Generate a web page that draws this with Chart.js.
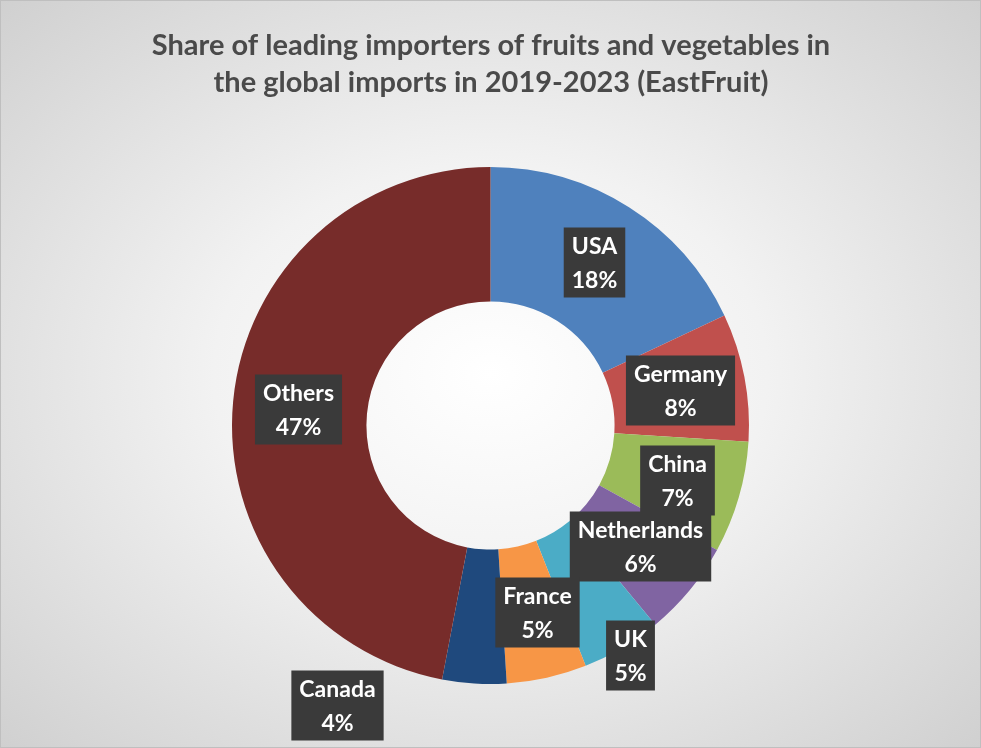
<!DOCTYPE html>
<html><head><meta charset="utf-8">
<script src="https://cdn.jsdelivr.net/npm/chart.js@4/dist/chart.umd.min.js"></script>
<style>
html,body{margin:0;padding:0;background:#fff;}
#wrap{position:absolute;left:0;top:0;width:979px;height:746px;border:1px solid #bfbfbf;
background:radial-gradient(ellipse at 50% 50%, #ffffff 0%, #f2f2f2 40%, #d0d0d0 100%);}
canvas{position:absolute;left:0;top:0;}
</style></head><body>
<div id="wrap"><canvas id="c" width="979" height="746"></canvas></div>
<script>
const categories = ["USA","Germany","China","Netherlands","UK","France","Canada","Others"];
const shares = [18,8,7,6,5,5,4,47];
const colors = ["#4F81BD","#C0504D","#9BBB59","#8064A2","#4BACC6","#F79646","#1F497D","#772C2A"];
const titleLines = ["Share of leading importers of fruits and vegetables in","the global imports in 2019-2023 (EastFruit)"];
// label box centres as offset from doughnut centre (layout only)
const labelOffsets = [[104,-163],[190,-35],[187,55],[150,121],[140,230],[47,187],[-153,280],[-192,-16]];

const labelPlugin = {
  id:'labels',
  afterDraw(chart){
    const ctx = chart.ctx;
    const arc = chart.getDatasetMeta(0).data[0];
    const cx = arc.x, cy = arc.y;
    ctx.save();
    ctx.fillStyle = '#4a4a4a';
    ctx.font = 'bold 29px Lato, "Open Sans", sans-serif';
    ctx.textAlign = 'center'; ctx.textBaseline='middle';
    ctx.fillText(titleLines[0], 490, 45);
    ctx.fillText(titleLines[1], 490, 82);
    ctx.font = 'bold 23px Lato, "Open Sans", sans-serif';
    categories.forEach((c,i)=>{
      const t1 = c, t2 = shares[i]+'%';
      const w = Math.max(ctx.measureText(t1).width, ctx.measureText(t2).width) + 16;
      const h = 70;
      const x = cx + labelOffsets[i][0], y = cy + labelOffsets[i][1];
      ctx.fillStyle = '#3a3a3a';
      ctx.fillRect(x-w/2, y-h/2, w, h);
      ctx.fillStyle = '#ffffff';
      ctx.fillText(t1, x, y-16);
      ctx.fillText(t2, x, y+18);
    });
    ctx.restore();
  }
};

new Chart(document.getElementById('c'), {
  type:'doughnut',
  data:{labels:categories, datasets:[{data:shares, backgroundColor:colors, borderColor:'#ffffff', borderWidth:0}]},
  options:{
    responsive:false, animation:false, cutout:'48%',
    layout:{padding:{top:166, bottom:63, left:0, right:0}},
    plugins:{legend:{display:false}, tooltip:{enabled:false}}
  },
  plugins:[labelPlugin]
});
</script></body></html>
